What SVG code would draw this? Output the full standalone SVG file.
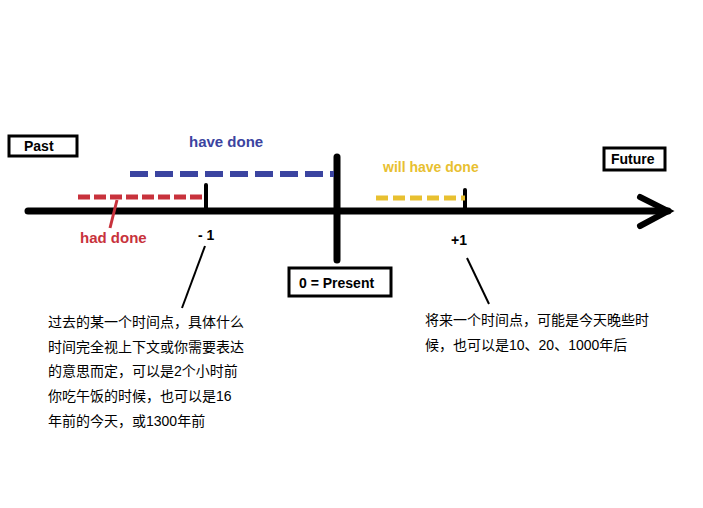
<svg xmlns="http://www.w3.org/2000/svg" width="703" height="508" viewBox="0 0 703 508">
<style>
text{font-family:"Liberation Sans","Noto Sans CJK SC",sans-serif;font-weight:bold}
.lbl{font-size:14px;fill:#000}
.cn{font-size:14px;font-weight:normal;fill:#000}
.box{fill:#fff;stroke:#000;stroke-width:3}
.ax{stroke:#000;fill:none;stroke-linecap:round}
</style>
<rect width="703" height="508" fill="#fff"/>
<g id="connectors">
<line class="ax" x1="28" y1="211" x2="668" y2="211" stroke-width="7"/>
<polyline class="ax" points="640,197 668,211 640,226" stroke-width="6"/>
<line class="ax" x1="206" y1="185" x2="206" y2="211" stroke-width="4"/>
<line class="ax" x1="337" y1="157" x2="337" y2="260" stroke-width="7"/>
<line class="ax" x1="465" y1="190" x2="465" y2="211" stroke-width="4"/>
<line x1="130" y1="174" x2="334" y2="174" stroke="#3b44a0" stroke-width="6" stroke-dasharray="18,7"/>
<line x1="78" y1="197" x2="206" y2="197" stroke="#c8323c" stroke-width="5" stroke-dasharray="12,4"/>
<line x1="117" y1="200" x2="110" y2="228" stroke="#c8323c" stroke-width="3"/>
<line x1="376" y1="198" x2="465" y2="198" stroke="#e8c030" stroke-width="5" stroke-dasharray="12,5"/>
<line x1="205" y1="246" x2="182" y2="308" stroke="#000" stroke-width="2"/>
<line x1="467" y1="258" x2="489" y2="304" stroke="#000" stroke-width="2"/>
</g>
<g id="past"><rect class="box" x="9" y="136" width="68" height="20"/><text class="lbl" x="24" y="151">Past</text></g>
<g id="future"><rect class="box" x="604" y="148" width="61" height="22"/><text class="lbl" x="611" y="164">Future</text></g>
<g id="present"><rect class="box" x="289" y="268" width="102" height="28"/><text class="lbl" x="299" y="288">0 = Present</text></g>
<g id="have-done"><text x="189" y="147" font-size="15" fill="#3b44a0">have done</text></g>
<g id="had-done"><text x="80" y="243" font-size="15" fill="#c8323c">had done</text></g>
<g id="will-have-done"><text x="383" y="172" font-size="14" fill="#e8c030">will have done</text></g>
<g id="minus1"><text class="lbl" x="198" y="240">- 1</text></g>
<g id="plus1"><text class="lbl" x="451" y="245">+1</text></g>
<g id="note-past">
<text class="cn" x="48" y="327">过去的某一个时间点，具体什么</text>
<text class="cn" x="48" y="352">时间完全视上下文或你需要表达</text>
<text class="cn" x="48" y="376">的意思而定，可以是2个小时前</text>
<text class="cn" x="48" y="401">你吃午饭的时候，也可以是16</text>
<text class="cn" x="48" y="426">年前的今天，或1300年前</text>
</g>
<g id="note-future">
<text class="cn" x="425" y="325">将来一个时间点，可能是今天晚些时</text>
<text class="cn" x="425" y="350">候，也可以是10、20、1000年后</text>
</g>
</svg>
